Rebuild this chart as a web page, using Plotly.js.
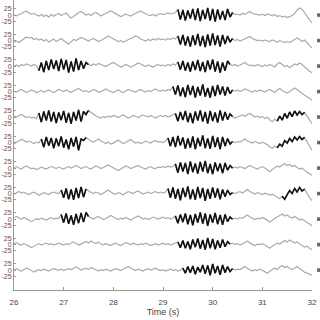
<!DOCTYPE html>
<html>
<head>
<meta charset="utf-8">
<script src="https://cdn.plot.ly/plotly-3.0.1.min.js"></script>
<style>html,body{margin:0;padding:0;background:#fff;}#chart{width:320px;height:320px;}</style>
</head>
<body>
<div id="chart"></div>
<script>
// time base: 26 s to 32 s, sampled every 0.05 s
const tStart = 26;
const tStep = 0.05;

// channel signals (µV), one array per row, top to bottom
const row1 = [0,-3,2,5,12,15,8,4,6,0, -4,2,-6,0,-8,3,-5,2,6,-2, 4,8,-3,-12,-6,2,10,14,6,0, 4,-2,6,10,3,-4,2,8,12,16, 10,4,0,-6,-2,4,0,-4,2,6, 12,16,10,4,0,-2,2,-4,3,6, 2,4,8,5,6,10,
  22,-18,20,-22,18,-14,24,-20,26,-24,20,-16,28,-22,24,-26,22,-18,16,-20,24,-8,10,
  2,4,0,6,3,8,14,6,4,2,0, 3,-2,4,0,-3,2,-6,-2,-8,-4, -10,-6,-2,6,20,28,22,10,-6,-20,-30];
const row2 = [-6,-2,-8,0,6,14,10,12,4,8, 2,6,-2,4,-6,0,6,-4,2,8, 0,-6,-14,-4,4,0,6,12,8,2, -2,4,8,2,-4,0,6,14,18,12, 6,2,-4,0,-6,-2,4,8,12,18, 14,6,2,-2,4,0,6,2,8,4, 6,2,8,4,10,6,
  18,-16,22,-20,16,-24,20,-18,26,-22,18,-26,24,-20,28,-18,20,-24,22,-14,18,-6,8,
  0,4,-2,2,6,10,16,8,4,0,2, -2,2,0,-4,2,-2,-6,0,-4,-8, -4,-8,-2,4,10,4,-4,2,-10,-22,-30];
const row3 = [0,4,-2,6,2,8,4,0,6,2,
  -18,14,-24,20,-16,26,-12,22,-20,28,-14,24,-26,18,-22,30,-16,20,-10,14,6,
  2,8,4,10,6,2,-2,4,10, 14,8,2,-4,0,6,2,-4,0,6, 12,8,2,-2,4,0,-4,2,6,2, 4,0,6,2,8,4,
  16,-14,20,-18,14,-22,18,-16,24,-20,16,-24,22,-14,26,-22,18,-26,14,-18,20,6,
  2,6,0,4,8,14,6,2,4,0,6,2, -2,4,0,6,2,-4,8,14,6,-2, 2,-6,0,8,4,12,6,-4,-12,-20,-26];
const row4 = [2,-2,4,8,2,-4,0,6,2,-4, 0,4,-2,2,6,0,-4,2,8,4, 0,6,2,-4,2,8,12,6,0,4, -2,2,8,4,-2,0,6,10,4,0, -4,2,6,0,-4,2,8,4,0,-2, 4,8,2,-2,4,0,6,10,4,2, 6,2,8,4,
  20,-12,24,-18,16,-22,26,-14,22,-24,18,-16,28,-20,14,-24,22,-18,26,-12,20,-16,18,-8,6,
  2,6,0,4,10,6,2,-2,4,0,6, 2,-2,4,8,2,-4,6,12,4,-2, -6,0,6,14,8,0,-6,-14,-20,-28,-34];
const row5 = [4,0,6,10,4,-2,2,-4,0,-6,
  16,-20,22,-14,26,-18,20,-24,18,-12,24,-22,16,-26,20,-14,28,-18,22,10,26,
  18,10,4,0,-4,2,-2,4,0, 6,2,-2,4,8,2,-4,0,6,2, -2,4,8,4,0,6,2,-4,2,6, 2,6,0,4,8,
  14,-16,20,-12,24,-20,16,-24,22,-14,26,-18,20,-26,24,-16,18,-22,26,-14,20,-10,12,2,
  -4,0,4,8,2,10,14,6,0,4,-2,2,-6,0,-12,-18,-8,
  -16,4,-12,14,-4,20,2,24,8,22,10,18,
  4,-12,-26];
const row6 = [-4,2,6,12,8,2,6,0,-4,2,-2,
  14,-18,22,-12,18,-22,16,-14,24,-20,12,-26,18,-16,22,-30,14,8,20,
  12,6,2,8,14,6,0,-4,2,-6, -2,4,10,2,-4,0,6,12,4,-2, 2,-4,0,6,2,-2,4,8,2,4, 0,6,
  18,-14,22,-18,26,-12,20,-24,16,-20,24,-26,18,-14,28,-22,16,-24,26,-18,20,-26,22,-14,16,-6,4,
  0,4,2,8,14,6,2,-2,4,0,-4,2,-2,-8,-16,-22,-14,
  -20,-6,-14,8,-2,16,4,22,10,24,12,20,
  2,-14,-30];
const row7 = [2,6,0,-4,4,8,2,-2,0,-6, -2,4,0,-4,2,6,2,-2,4,0, -4,2,6,0,4,10,4,-2,2,6, 0,-4,2,8,4,-2,2,6,12,6, 0,-4,-10,-4,2,8,4,-2,2,6, 10,4,0,-4,2,6,0,-2,4,2, 6,2,8,4,6,
  16,-18,22,-14,20,-24,26,-16,18,-22,24,-14,28,-20,16,-24,22,-12,18,-20,20,-8,10,0,
  4,0,6,2,-2,4,10,4,0,-4,2, 6,0,-6,-14,-6,2,8,4,12,18, 10,14,6,10,2,-4,0,-10,-16,-22,-28];
const row8 = [-2,4,8,2,6,0,-4,2,6,0, -6,-2,4,0,-4,2,6,2,0,
  14,-16,20,-22,16,-24,22,-18,26,-14,18,
  10,4,0,6,2,-4,2,8,14,6, 0,-2,4,0,-6,2,8,4,0,6, 10,4,-2,2,6,0,4,8,2,6, 2,6,
  20,-16,24,-20,18,-26,22,-14,28,-22,16,-24,26,-18,22,-28,18,-20,24,-16,20,-22,16,-12,14,-4,4,
  0,4,8,2,10,16,8,2,-2,4,0,-4,2,-2,-6,-2,-8,-14,-20,
  -10,-22,-4,12,0,20,6,24,10,18,
  0,-14,-28];
const row9 = [6,10,4,0,6,2,-4,-10,-4,2, -2,4,0,-4,2,6,0,4,2,
  18,-14,22,-18,14,-22,20,-16,24,-12,26,10,
  4,0,6,10,4,-2,2,8,14, 8,2,-2,4,0,6,2,-4,2,6, 12,6,0,4,-2,2,8,4,0,4, 8,2,6,0,4,
  12,-16,18,-12,22,-20,16,-24,20,-14,26,-18,22,-26,18,-14,24,-20,16,-22,18,-10,8,0,
  4,0,6,2,10,16,8,2,-2,4,0, 6,2,-4,-12,-4,2,8,14,20,12, 16,8,4,10,2,-4,0,-6,-12,-18,-26];
const row10 = [4,8,2,-2,4,0,-6,-12,-6,0, 4,-2,2,6,0,4,-2,2,6,2, -2,4,0,6,10,4,-2,2,8,12, 6,14,8,4,10,2,-2,4,0,-4, 2,6,0,-4,2,8,4,0,6,2, -2,4,0,6,2,-4,0,4,-2,2, 6,0,4,-2,2,4,
  10,-12,16,-14,12,-18,20,-10,24,-16,18,-20,26,-14,22,-18,16,-12,20,-8,12,2,
  6,0,4,-2,2,8,14,6,0,-4,2,0, 4,-2,-8,-14,-6,0,6,2,10,16, 10,18,12,6,10,2,-4,-10,-6,-14,-20];
const row11 = [2,6,0,-4,2,8,4,-2,-8,-2, 2,-2,4,0,-4,2,6,2,0,4, -2,2,6,2,8,12,6,0,4,8, 2,10,6,0,-4,2,-2,4,0,-4, 2,6,2,-2,4,8,14,8,2,-2, 4,0,-4,2,6,0,4,8,2,-2, 2,-4,0,4,-2,2,-4,0,
  8,-12,14,-10,16,-16,12,-8,20,-14,18,-20,24,-12,16,-18,20,-10,14,-6,6,
  0,4,2,8,14,6,0,-4,2,-2,4, 0,-6,-12,-4,2,8,2,12,18,10, 14,6,2,8,14,6,-2,-8,-12,-16,-20];

const rows = [row1,row2,row3,row4,row5,row6,row7,row8,row9,row10,row11];

// highlighted (black) intervals per row, in seconds
const highlights = [
  [[29.3,30.4]],
  [[29.3,30.4]],
  [[26.5,27.5],[29.3,30.35]],
  [[29.2,30.4]],
  [[26.5,27.5],[29.25,30.4],[31.3,31.85]],
  [[26.55,27.45],[29.1,30.4],[31.3,31.85]],
  [[29.25,30.4]],
  [[26.95,27.45],[29.1,30.4],[31.4,31.85]],
  [[26.95,27.5],[29.25,30.4]],
  [[29.3,30.35]],
  [[29.4,30.4]]
];

// per-row y tick values/labels
const rowTickVals = [25, 0, -25];
const rowTickText = ['25', '0', '-25'];
const xTickVals = [26,27,28,29,30,31,32];
const xTickText = ['26','27','28','29','30','31','32'];

const rowGap = 100;
const traces = [];
const tickvals = [], ticktext = [];
const shapes = [];

rows.forEach((vals, k) => {
  const off = -rowGap * k;
  const xs = vals.map((_, i) => +(tStart + i * tStep).toFixed(3));
  const ys = vals.map(v => v + off);
  traces.push({x: xs, y: ys, type: 'scatter', mode: 'lines',
    line: {color: '#aaaaaa', width: 1.2}, hoverinfo: 'skip', showlegend: false});
  highlights[k].forEach(([a, b]) => {
    const hx = [], hy = [];
    xs.forEach((t, i) => { if (t >= a - 1e-6 && t <= b + 1e-6) { hx.push(t); hy.push(ys[i]); } });
    traces.push({x: hx, y: hy, type: 'scatter', mode: 'lines',
      line: {color: '#111', width: 1.6}, hoverinfo: 'skip', showlegend: false});
  });
  rowTickVals.forEach((v, j) => { tickvals.push(v + off); ticktext.push(rowTickText[j]); });
  shapes.push({type: 'rect', xref: 'paper', yref: 'y', x0: 1.017, x1: 1.03,
    y0: off - 7, y1: off + 7, fillcolor: '#666', line: {width: 0}});
});

const layout = {
  width: 320, height: 320,
  margin: {l: 14, r: 8, t: 0, b: 30},
  paper_bgcolor: '#fff', plot_bgcolor: '#fff',
  font: {family: 'Liberation Sans, Arial, sans-serif', color: '#444'},
  xaxis: {range: [26, 32], tickvals: xTickVals, ticktext: xTickText,
    showline: true, linecolor: '#999', linewidth: 1, ticks: 'inside', ticklen: 3,
    tickcolor: '#999', showgrid: false, zeroline: false, tickfont: {size: 8, color: '#444'},
    ticklabelstandoff: 4,
    title: {text: 'Time (s)', font: {size: 9, color: '#444'}, standoff: 2}},
  yaxis: {range: [-1078, 59], tickvals: tickvals, ticktext: ticktext,
    showline: true, linecolor: '#999', linewidth: 1, ticks: 'inside', ticklen: 2,
    tickcolor: '#999', showgrid: false, zeroline: false, tickfont: {size: 7, color: '#555'},
    ticklabelstandoff: 0},
  shapes: shapes
};

Plotly.newPlot('chart', traces, layout, {staticPlot: true, displayModeBar: false});
</script>
</body>
</html>
